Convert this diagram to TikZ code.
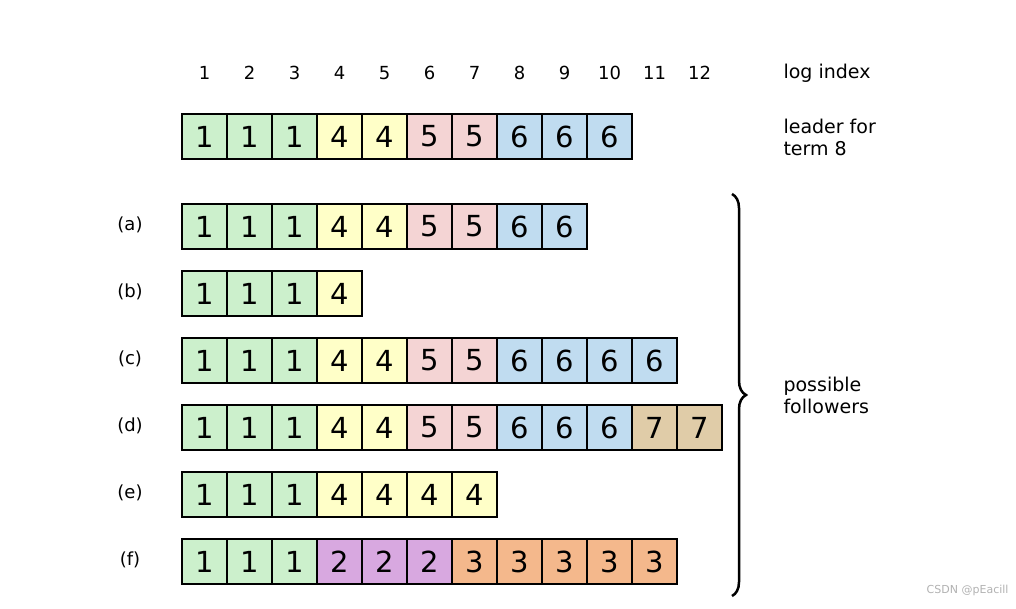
\documentclass[tikz,border=0pt]{standalone}
\usepackage{fontspec}
\setmainfont{DejaVu Sans}
\usetikzlibrary{decorations.pathreplacing}
\definecolor{cg}{HTML}{CCF0CC}
\definecolor{cy}{HTML}{FFFFC8}
\definecolor{cp}{HTML}{F4D4D4}
\definecolor{cb}{HTML}{C0DCF0}
\definecolor{ct}{HTML}{E0CCA8}
\definecolor{cv}{HTML}{D8A8E0}
\definecolor{co}{HTML}{F4B88C}
\tikzset{cell/.style={draw=black,line width=2.5pt,minimum width=45pt,minimum height=45pt,inner sep=0pt,font=\fontsize{29}{30}\selectfont},
lab/.style={font=\fontsize{19}{22}\selectfont,anchor=west,align=left},
rl/.style={font=\fontsize{18}{20}\selectfont}}
\begin{document}
\begin{tikzpicture}[x=1pt,y=-1pt]
\useasboundingbox (0,0) rectangle (1016,608);
\foreach \i in {1,...,12}{\node[font=\fontsize{18}{20}\selectfont] (ix\i) at ({182+22.5+45*(\i-1)},73) {\i};}
\node[lab] (li) at (780,73) {log index};
\node[lab] (lt) at (780,137) {leader for\\term 8};
\newcommand\logrow[3]{%
 \foreach \v/\c [count=\k] in {#3}{\node[cell,fill=\c] (#1\k) at ({182+22.5+45*(\k-1)},#2) {\v};}}
\logrow{L}{136.5}{1/cg,1/cg,1/cg,4/cy,4/cy,5/cp,5/cp,6/cb,6/cb,6/cb}
\logrow{a}{226.5}{1/cg,1/cg,1/cg,4/cy,4/cy,5/cp,5/cp,6/cb,6/cb}
\logrow{b}{293.5}{1/cg,1/cg,1/cg,4/cy}
\logrow{c}{360.5}{1/cg,1/cg,1/cg,4/cy,4/cy,5/cp,5/cp,6/cb,6/cb,6/cb,6/cb}
\logrow{d}{427.5}{1/cg,1/cg,1/cg,4/cy,4/cy,5/cp,5/cp,6/cb,6/cb,6/cb,7/ct,7/ct}
\logrow{e}{494.5}{1/cg,1/cg,1/cg,4/cy,4/cy,4/cy,4/cy}
\logrow{f}{561.5}{1/cg,1/cg,1/cg,2/cv,2/cv,2/cv,3/co,3/co,3/co,3/co,3/co}
\node[rl] (ra) at (130,225) {(a)};
\node[rl] (rb) at (130,292) {(b)};
\node[rl] (rc) at (130,359) {(c)};
\node[rl] (rd) at (130,426) {(d)};
\node[rl] (re) at (130,493) {(e)};
\node[rl] (rf) at (130,560) {(f)};
\coordinate (bt) at (732,194);
\coordinate (bb) at (732,596);
\draw[line width=2.5pt,decorate,decoration={brace,amplitude=14pt}] (bt) -- (bb);
\node[lab] (pf) at (780,395) {possible\\followers};
\node[font=\fontsize{11}{12}\selectfont,text=black!30,anchor=east] (wm) at (1012,590) {CSDN @pEacill};
\end{tikzpicture}
\end{document}
